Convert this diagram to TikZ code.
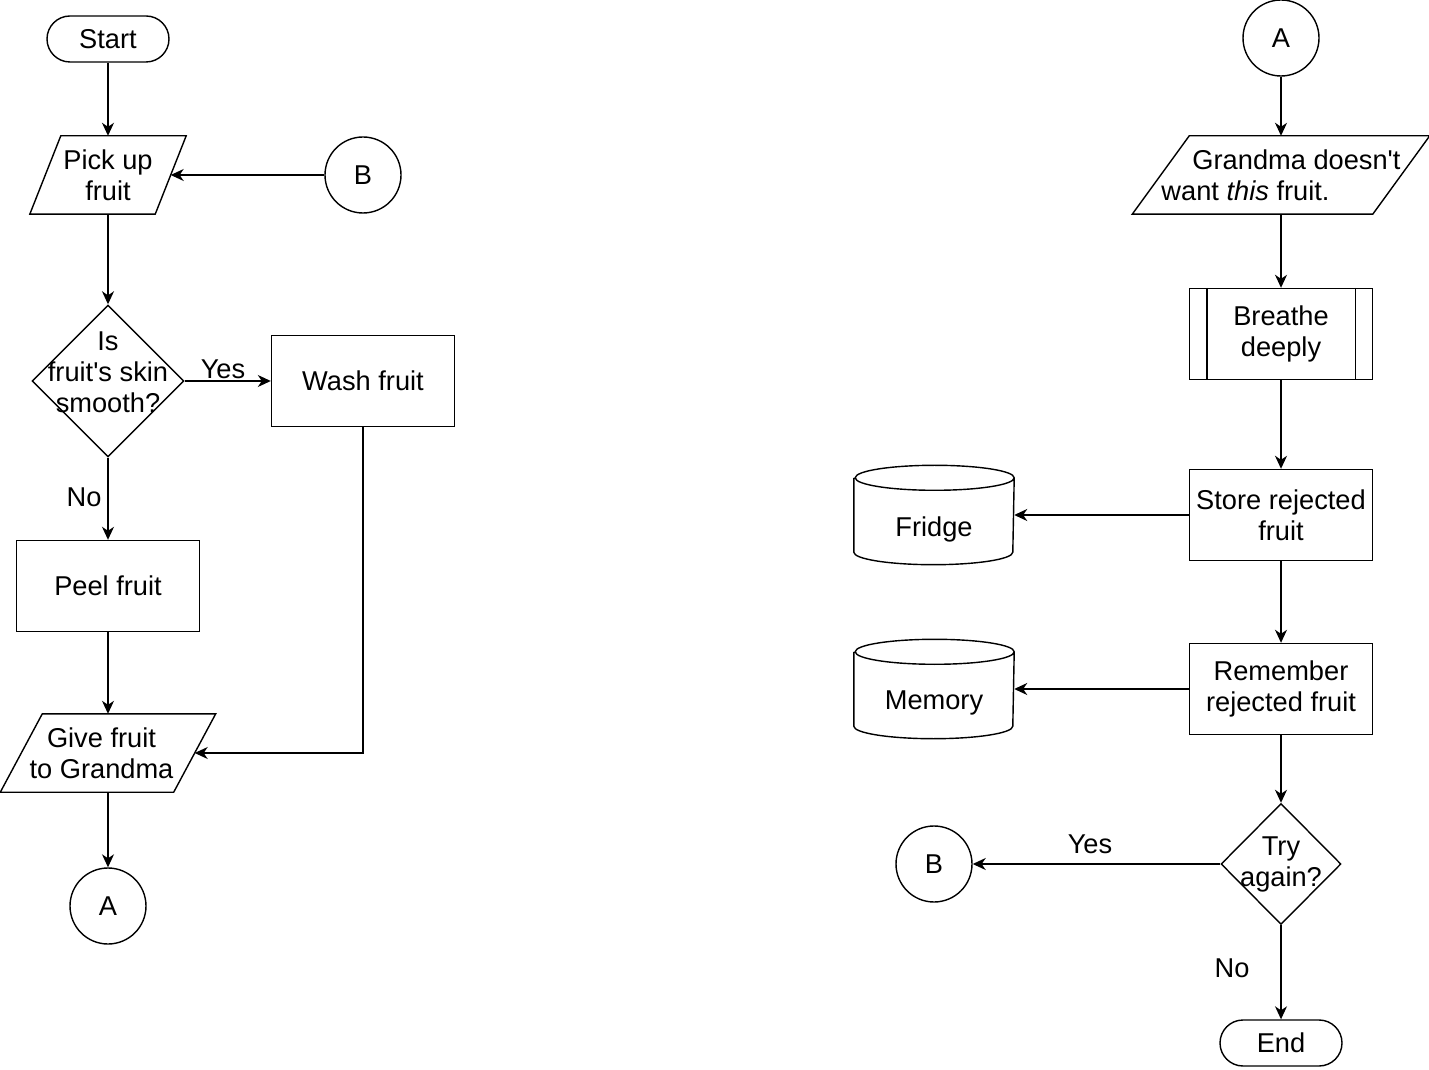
\documentclass[tikz,border=0pt]{standalone}
\usepackage{fontspec}
\setmainfont{Liberation Sans}
\usepackage{tikz}
\usetikzlibrary{arrows.meta}
\usetikzlibrary{shapes.geometric}

\tikzset{
  every node/.style={font=\fontsize{15.5}{17.6}\selectfont},
  flow/.style={-{Stealth[length=0.26cm,width=0.24cm,inset=0.08cm]}},
  terminal/.style={draw,rounded corners=0.46cm,minimum width=2.44cm,minimum height=0.92cm},
  connector/.style={draw,circle,minimum size=1.52cm,inner sep=0pt},
  process/.style={draw,minimum width=3.66cm,minimum height=1.82cm,align=center},
  iobox/.style={minimum height=1.54cm,inner sep=0pt,align=center},
  decision/.style={draw,diamond,aspect=1,inner sep=0pt},
  store/.style={minimum width=3.18cm,minimum height=1.96cm}
}

\begin{document}
\begin{tikzpicture}[line width=0.8pt]
\useasboundingbox (0,0) rectangle (28.58,21.38);

% left column
\node[terminal] (start) at (2.16,20.60) {Start};
\node[iobox,minimum width=2.48cm] (pick) at (2.16,17.88) {Pick up\\fruit};
\draw ([xshift=0.31cm]pick.north west) -- ([xshift=0.31cm]pick.north east)
  -- ([xshift=-0.31cm]pick.south east) -- ([xshift=-0.31cm]pick.south west) -- cycle;
\node[connector] (bleft) at (7.26,17.88) {B};
\node[decision,minimum width=3.04cm,minimum height=3.04cm,
  label={[align=center,yshift=0.17cm]center:Is\\fruit\textquotesingle s skin\\smooth?}] (smooth) at (2.16,13.76) {};
\node[process] (wash) at (7.26,13.76) {Wash fruit};
\node[process] (peel) at (2.16,9.66) {Peel fruit};
\node[iobox,minimum width=3.44cm] (give) at (2.16,6.32)
  {Give fruit\hspace*{0.26cm}\\to Grandma\hspace*{0.26cm}};
\draw ([xshift=0.42cm]give.north west) -- ([xshift=0.42cm]give.north east)
  -- ([xshift=-0.42cm]give.south east) -- ([xshift=-0.42cm]give.south west) -- cycle;
\node[connector] (aleft) at (2.16,3.26) {A};

\node (yesleft) at (4.46,14.00) {Yes};
\node (noleft) at (1.68,11.44) {No};

\draw[flow] (start) -- (pick);
\draw[flow] (bleft) -- (pick);
\draw[flow] (pick) -- (smooth);
\draw[flow] (smooth) -- (wash);
\draw[flow] (smooth) -- (peel);
\draw[flow] (peel) -- (give);
\draw[flow] (wash.south) |- (give.east);
\draw[flow] (give) -- (aleft);

% right column
\node[connector] (aright) at (25.62,20.62) {A};
\node[iobox,minimum width=4.68cm,align=left] (grandma) at (25.62,17.88)
  {\hspace*{0.62cm}Grandma doesn\textquotesingle t\\want \textit{this} fruit.};
\draw ([xshift=0.57cm]grandma.north west) -- ([xshift=0.57cm]grandma.north east)
  -- ([xshift=-0.57cm]grandma.south east) -- ([xshift=-0.57cm]grandma.south west) -- cycle;
\node[process] (breathe) at (25.62,14.70) {Breathe\\deeply};
\draw ([xshift=0.36cm]breathe.north west) -- ([xshift=0.36cm]breathe.south west);
\draw ([xshift=-0.36cm]breathe.north east) -- ([xshift=-0.36cm]breathe.south east);
\node[process] (keep) at (25.62,11.08) {Store rejected\\fruit};
\node[process] (remember) at (25.62,7.60) {Remember\\rejected fruit};
\node[store,label={[yshift=-0.28cm]center:Fridge}] (fridge) at (18.68,11.08) {};
\node[store,label={[yshift=-0.28cm]center:Memory}] (memory) at (18.68,7.60) {};
\foreach \n in {fridge,memory}
  \draw ([yshift=-0.25cm]\n.north west) -- ([yshift=0.25cm]\n.south west)
    arc[start angle=180,end angle=360,x radius=1.59cm,y radius=0.25cm]
    -- ([yshift=-0.25cm]\n.north east)
    arc[start angle=0,end angle=180,x radius=1.59cm,y radius=0.25cm]
    arc[start angle=180,end angle=360,x radius=1.59cm,y radius=0.25cm];
\node[decision,minimum width=2.40cm,minimum height=2.42cm,
  label={[align=center]center:Try\\again?}] (again) at (25.62,4.10) {};
\node[connector] (bright) at (18.68,4.10) {B};
\node[terminal] (finish) at (25.62,0.52) {End};

\node (yesright) at (21.80,4.50) {Yes};
\node (noright) at (24.64,2.02) {No};

\draw[flow] (aright) -- (grandma);
\draw[flow] (grandma) -- (breathe);
\draw[flow] (breathe) -- (keep);
\draw[flow] (keep) -- (fridge);
\draw[flow] (keep) -- (remember);
\draw[flow] (remember) -- (memory);
\draw[flow] (remember) -- (again);
\draw[flow] (again) -- (bright);
\draw[flow] (again) -- (finish);
\end{tikzpicture}
\end{document}
